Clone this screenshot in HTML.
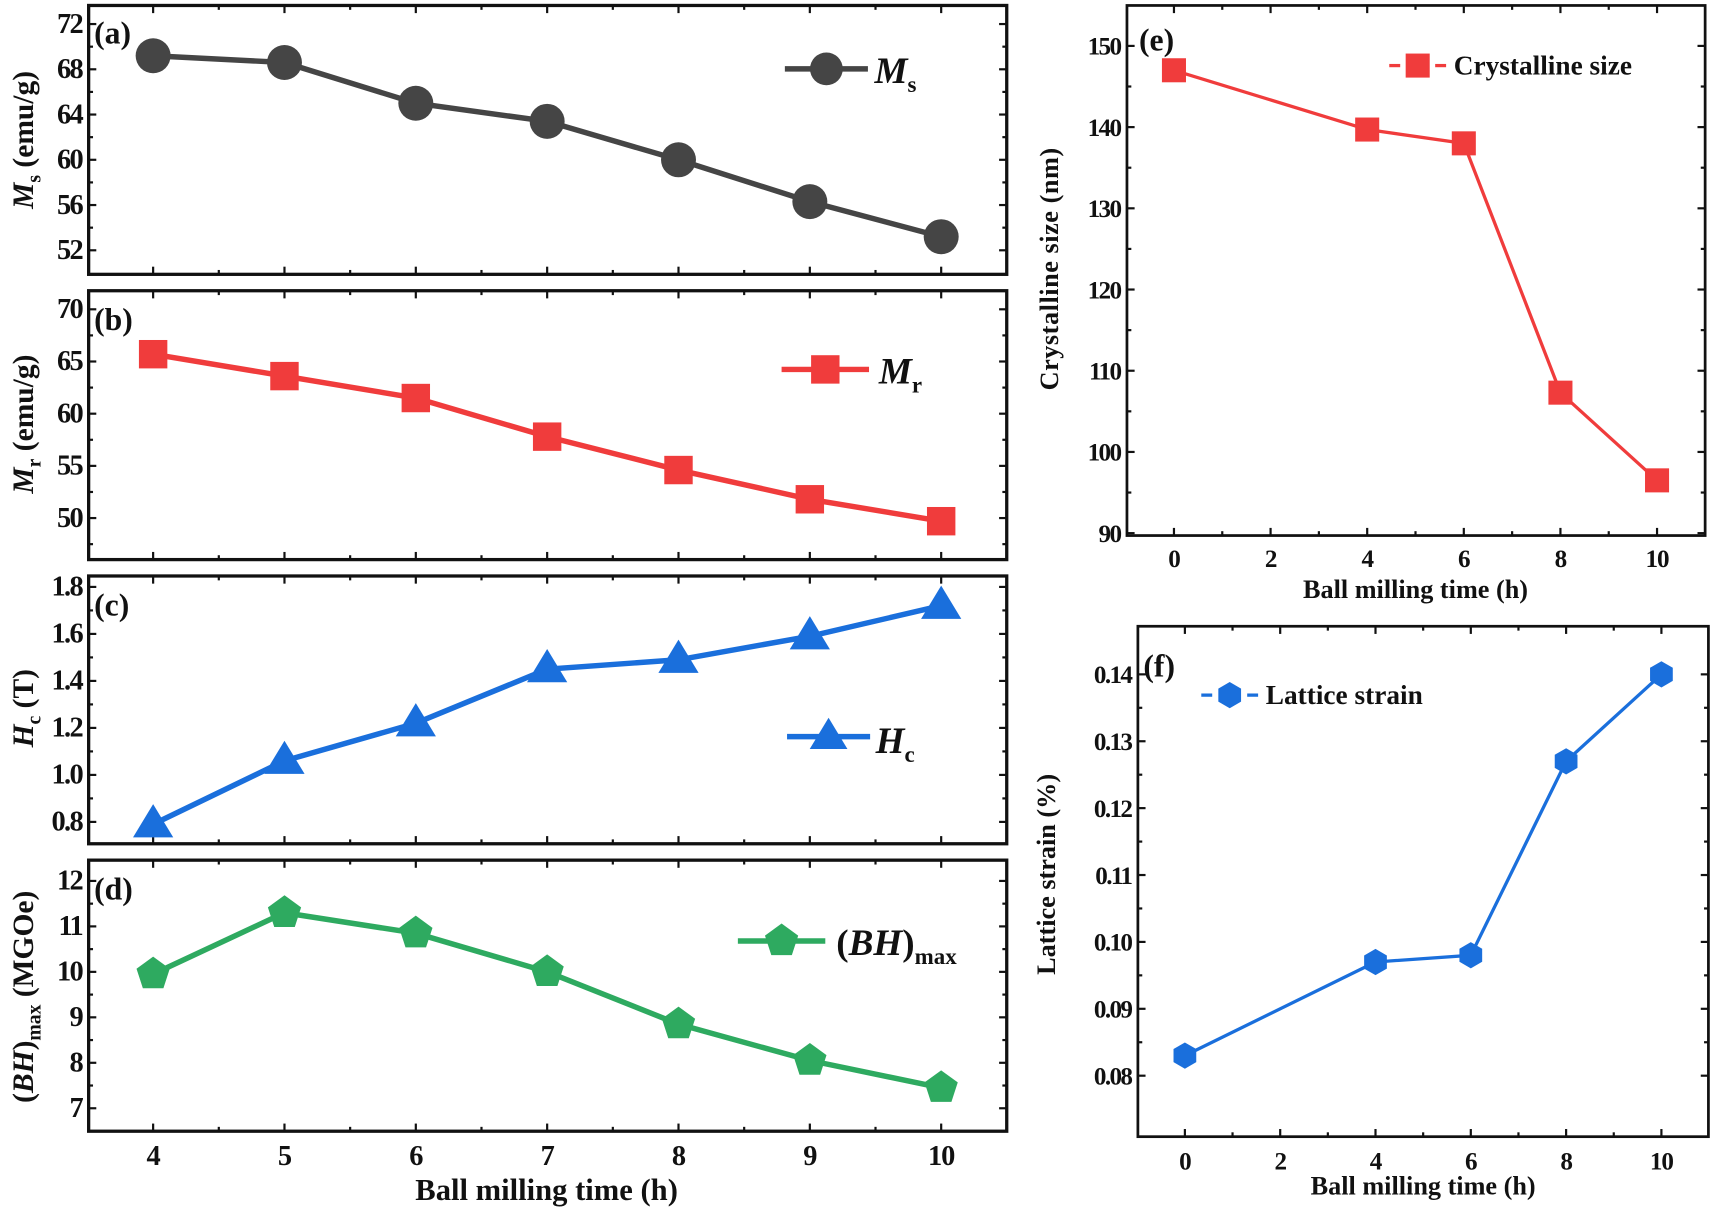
<!DOCTYPE html>
<html><head><meta charset="utf-8"><style>
html,body{margin:0;padding:0;background:#fff}
svg{display:block}
text{font-family:"Liberation Serif",serif;font-weight:bold;fill:#111}
</style></head><body>
<svg id="s" width="1714" height="1211" viewBox="0 0 1568 1108" xmlns="http://www.w3.org/2000/svg"></svg>
<script>
const S=document.getElementById('s');let h='';
function T(x,y,t,o={}){h+=`<text x="${x}" y="${y}" font-size="${o.fs||22}" text-anchor="${o.a||'middle'}" ${o.tr?'transform="'+o.tr+'"':''} ${o.st?'style="'+o.st+'"':''}>${t}</text>`;}
function marker(type,x,y,c,r){
 if(type=='c')h+=`<circle cx="${x}" cy="${y}" r="${r}" fill="${c}"/>`;
 if(type=='s')h+=`<rect x="${x-r}" y="${y-r}" width="${2*r}" height="${2*r}" fill="${c}"/>`;
 if(type=='t')h+=`<polygon points="${x},${y-r*1.15} ${x+r*1.15},${y+r*0.75} ${x-r*1.15},${y+r*0.75}" fill="${c}"/>`;
 if(type=='p'||type=='h'){let n=type=='p'?5:6,p=[];for(let i=0;i<n;i++){let a=-Math.PI/2+i*2*Math.PI/n;p.push((x+r*Math.cos(a)).toFixed(1)+','+(y+r*Math.sin(a)).toFixed(1));}h+=`<polygon points="${p.join(' ')}" fill="${c}"/>`;}
}
function panel(o){
 const {x0,x1,y0,y1}=o;
 h+=`<rect x="${x0}" y="${y0}" width="${x1-x0}" height="${y1-y0}" fill="none" stroke="#111" stroke-width="${o.bw||3}"/>`;
 o.xt.forEach((v,i)=>{let X=o.fx(v);h+=`<line x1="${X}" y1="${y1}" x2="${X}" y2="${y1-7}" stroke="#111" stroke-width="2"/><line x1="${X}" y1="${y0}" x2="${X}" y2="${y0+7}" stroke="#111" stroke-width="2"/>`;if(o.xl)T(X,o.xly,v,{fs:o.xfs||26,st:'letter-spacing:-1px'});});
 (o.xm||[]).forEach(v=>{let X=o.fx(v);h+=`<line x1="${X}" y1="${y1}" x2="${X}" y2="${y1-4}" stroke="#111" stroke-width="2"/><line x1="${X}" y1="${y0}" x2="${X}" y2="${y0+4}" stroke="#111" stroke-width="2"/>`;});
 o.yt.forEach(v=>{let Y=o.fy(v);h+=`<line x1="${x0}" y1="${Y}" x2="${x0+7}" y2="${Y}" stroke="#111" stroke-width="2"/><line x1="${x1}" y1="${Y}" x2="${x1-7}" y2="${Y}" stroke="#111" stroke-width="2"/>`;T(x0-6,Y+8,o.yf?o.yf(v):v,{a:'end',fs:o.yfs||26,st:'letter-spacing:-1.5px'});});
 (o.ym||[]).forEach(v=>{let Y=o.fy(v);h+=`<line x1="${x0}" y1="${Y}" x2="${x0+4}" y2="${Y}" stroke="#111" stroke-width="2"/><line x1="${x1}" y1="${Y}" x2="${x1-4}" y2="${Y}" stroke="#111" stroke-width="2"/>`;});
 let pts=o.d.map(p=>[o.fx(p[0]),o.fy(p[1])]);
 h+=`<polyline points="${pts.map(p=>p.join(',')).join(' ')}" fill="none" stroke="${o.c}" stroke-width="${o.lw||5}"/>`;
 pts.forEach(p=>marker(o.m,p[0],p[1],o.c,o.r));
}
const lx=v=>140+(v-4)*120.17;
panel({x0:81,x1:921,y0:5,y1:251,fx:lx,fy:v=>22+(72-v)*10.35,xt:[4,5,6,7,8,9,10],xm:[4.5,5.5,6.5,7.5,8.5,9.5],yt:[52,56,60,64,68,72],ym:[54,58,62,66,70],c:'#454545',m:'c',r:16,
 d:[[4,69.2],[5,68.6],[6,65],[7,63.4],[8,60],[9,56.3],[10,53.2]]});
panel({x0:81,x1:921,y0:266,y1:512,fx:lx,fy:v=>283+(70-v)*9.55,xt:[4,5,6,7,8,9,10],xm:[4.5,5.5,6.5,7.5,8.5,9.5],yt:[50,55,60,65,70],ym:[47.5,52.5,57.5,62.5,67.5],c:'#f03c3c',m:'s',r:13,
 d:[[4,65.7],[5,63.6],[6,61.5],[7,57.8],[8,54.6],[9,51.8],[10,49.7]]});
panel({x0:81,x1:921,y0:527,y1:772,fx:lx,fy:v=>537+(1.8-v)*215,xt:[4,5,6,7,8,9,10],xm:[4.5,5.5,6.5,7.5,8.5,9.5],yt:[0.8,1.0,1.2,1.4,1.6,1.8],yf:v=>v.toFixed(1),ym:[0.9,1.1,1.3,1.5,1.7],c:'#1a6fdc',m:'t',r:16,
 d:[[4,0.79],[5,1.06],[6,1.22],[7,1.45],[8,1.49],[9,1.59],[10,1.72]]});
panel({x0:81,x1:921,y0:787,y1:1035,fx:lx,fy:v=>806+(12-v)*41.6,xt:[4,5,6,7,8,9,10],xl:1,xly:1066,xm:[4.5,5.5,6.5,7.5,8.5,9.5],yt:[7,8,9,10,11,12],ym:[7.5,8.5,9.5,10.5,11.5],c:'#2eaa60',m:'p',r:16,
 d:[[4,9.95],[5,11.3],[6,10.85],[7,10],[8,8.85],[9,8.05],[10,7.45]]});
panel({x0:1031,x1:1560,y0:5,y1:490,bw:2.5,fx:v=>1074+v*44.2,fy:v=>42+(150-v)*7.43,xt:[0,2,4,6,8,10],xl:1,xly:519,xfs:23,xm:[1,3,5,7,9],yt:[90,100,110,120,130,140,150],ym:[95,105,115,125,135,145],yfs:23,c:'#f03c3c',m:'s',r:11,lw:3,
 d:[[0,147],[4,139.7],[6,138],[8,107.3],[10,96.5]]});
panel({x0:1041,x1:1563,y0:573,y1:1040,bw:2.5,fx:v=>1084+v*43.6,fy:v=>617+(0.14-v)*6120,xt:[0,2,4,6,8,10],xl:1,xly:1070,xfs:23,xm:[1,3,5,7,9],yt:[0.08,0.09,0.10,0.11,0.12,0.13,0.14],yf:v=>v.toFixed(2),ym:[0.085,0.095,0.105,0.115,0.125,0.135],yfs:23,c:'#1a6fdc',m:'h',r:12,lw:3,
 d:[[0,0.083],[4,0.097],[6,0.098],[8,0.127],[10,0.14]]});
T(86,40,'(a)',{a:'start',fs:29});T(86,302,'(b)',{a:'start',fs:29});T(86,563,'(c)',{a:'start',fs:29});T(86,823,'(d)',{a:'start',fs:29});
T(1042,46,'(e)',{a:'start',fs:29});T(1046,619,'(f)',{a:'start',fs:29});
function leg(x,y,c,m,r,w,lw){h+=`<line x1="${x-w}" y1="${y}" x2="${x+w}" y2="${y}" stroke="${c}" stroke-width="${lw}"/>`;marker(m,x,y,c,r);}
function legd(x,y,c,m,r){h+=`<line x1="${x-26}" y1="${y}" x2="${x-16}" y2="${y}" stroke="${c}" stroke-width="3"/><line x1="${x+16}" y1="${y}" x2="${x+26}" y2="${y}" stroke="${c}" stroke-width="3"/>`;marker(m,x,y,c,r);}
leg(756,63,'#454545','c',15,38,5);h+=`<text x="800" y="76" font-size="34" style="font-style:italic">M<tspan font-size="21" dy="8" style="font-style:normal">s</tspan></text>`;
leg(755,338,'#f03c3c','s',13,40,5);h+=`<text x="804" y="351" font-size="34" style="font-style:italic">M<tspan font-size="21" dy="8" style="font-style:normal">r</tspan></text>`;
leg(758,674,'#1a6fdc','t',15,38,5);h+=`<text x="801" y="689" font-size="34" style="font-style:italic">H<tspan font-size="21" dy="8" style="font-style:normal">c</tspan></text>`;
leg(715,861,'#2eaa60','p',16,40,5);h+=`<text x="765" y="874" font-size="34">(<tspan style="font-style:italic">BH</tspan>)<tspan font-size="21" dy="8">max</tspan></text>`;
legd(1297,60,'#f03c3c','s',11);T(1330,68,'Crystalline size',{a:'start',fs:25});
legd(1125,636,'#1a6fdc','h',12);T(1158,644,'Lattice strain',{a:'start',fs:25});
T(500,1098,'Ball milling time (h)',{fs:28});
T(1295,547,'Ball milling time (h)',{fs:24});
T(1302,1093,'Ball milling time (h)',{fs:24});
h+=`<text font-size="27" text-anchor="middle" transform="translate(30,128) rotate(-90)"><tspan style="font-style:italic">M</tspan><tspan font-size="18" dy="7">s</tspan><tspan dy="-7"> (emu/g)</tspan></text>`;
h+=`<text font-size="27" text-anchor="middle" transform="translate(30,388) rotate(-90)"><tspan style="font-style:italic">M</tspan><tspan font-size="18" dy="7">r</tspan><tspan dy="-7"> (emu/g)</tspan></text>`;
h+=`<text font-size="27" text-anchor="middle" transform="translate(30,648) rotate(-90)"><tspan style="font-style:italic">H</tspan><tspan font-size="18" dy="7">c</tspan><tspan dy="-7"> (T)</tspan></text>`;
h+=`<text font-size="27" text-anchor="middle" transform="translate(30,912) rotate(-90)">(<tspan style="font-style:italic">BH</tspan>)<tspan font-size="18" dy="7">max</tspan><tspan dy="-7"> (MGOe)</tspan></text>`;
T(0,0,'Crystalline size (nm)',{fs:24,tr:'translate(968,246) rotate(-90)',st:'letter-spacing:0.5px'});
T(0,0,'Lattice strain (%)',{fs:24,tr:'translate(965,800) rotate(-90)'});
S.innerHTML=h;
</script>
</body></html>
